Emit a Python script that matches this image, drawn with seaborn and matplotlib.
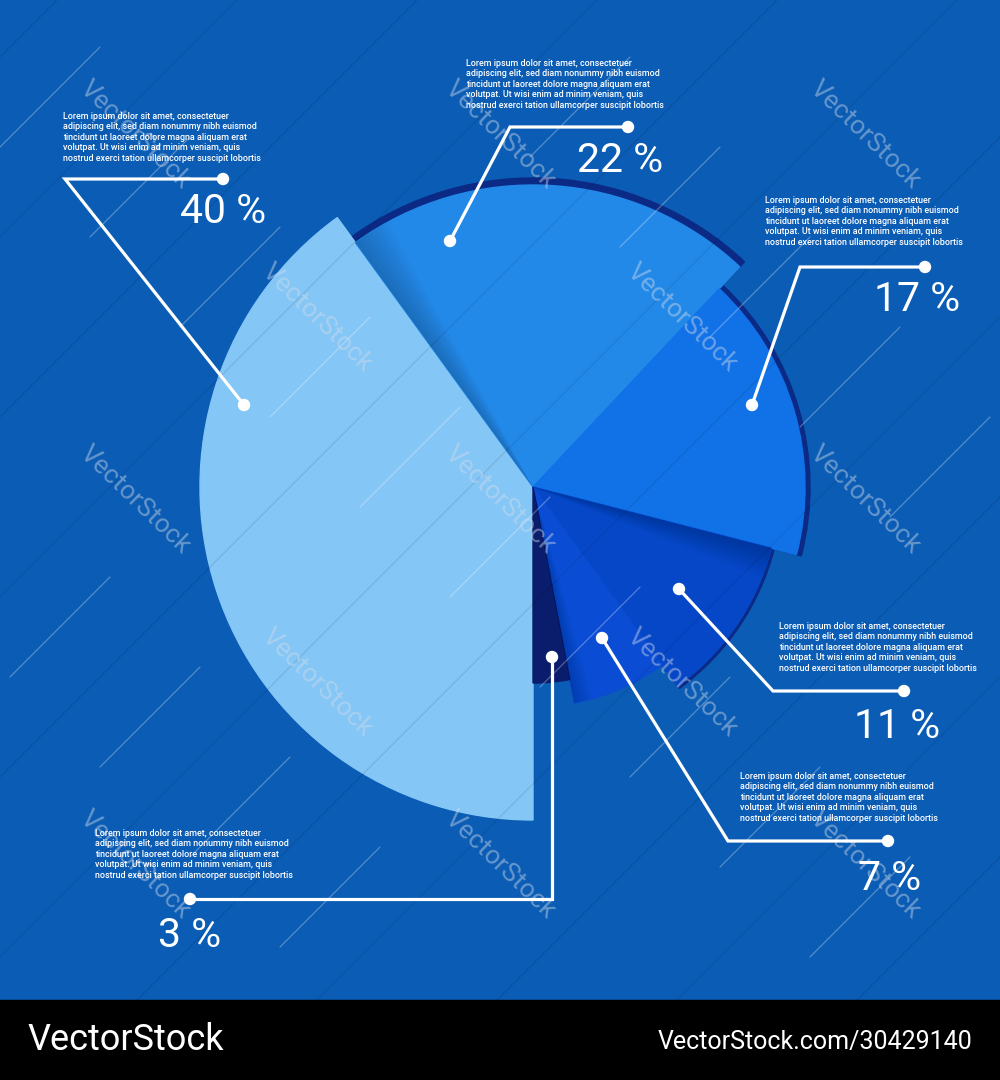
import numpy as np
import matplotlib
matplotlib.use("Agg")
import matplotlib.pyplot as plt
from matplotlib.patches import Wedge, Rectangle
import seaborn as sns

# data
labels = ["40 %", "22 %", "17 %", "11 %", "7 %", "3 %"]
shares = [40, 22, 17, 11, 7, 3]
radii = [333, 302, 272, 246, 220, 196]
slice_colors = ["#84C6F6", "#2389E8", "#1172E8", "#0647C8", "#0A4DD4", "#0A1C6C"]
lorem = ("Lorem ipsum dolor sit amet, consectetuer\n"
         "adipiscing elit, sed diam nonummy nibh euismod\n"
         "tincidunt ut laoreet dolore magna aliquam erat\n"
         "volutpat. Ut wisi enim ad minim veniam, quis\n"
         "nostrud exerci tation ullamcorper suscipit lobortis")

# layout (pixel coords, y down)
center = (533, 487)
callouts = [
    [(244, 405), (65, 179), (223, 179)],
    [(450, 241), (510, 127), (628, 127)],
    [(752, 405), (800, 267), (925, 267)],
    [(679, 589), (773, 691), (904, 691)],
    [(602, 638), (728, 841), (888, 841)],
    [(552, 657), (552, 899), (190, 899)],
]
pct_pos = [(223, 223), (620, 172), (917, 311), (897, 738), (890, 890), (190, 947)]
lorem_pos = [(63, 112), (466, 59), (765, 196), (779, 622), (740, 772), (95, 829)]
rim_extra = [0, 7, 5, 3, 0, 0]

bg = "#0A5CB4"
rim = "#0B2A86"

sns.set_style("white")
plt.rcParams["font.family"] = ["Roboto", "DejaVu Sans"]

fig = plt.figure(figsize=(10, 10.8), dpi=100)
ax = fig.add_axes([0, 0, 1, 1])
ax.set_xlim(0, 1000)
ax.set_ylim(1080, 0)
ax.axis("off")

ax.add_patch(Rectangle((0, 0), 1000, 1000, color=bg, zorder=0))
ax.add_patch(Rectangle((0, 1000), 1000, 80, color="black", zorder=0))

# pie: clockwise from straight down (y axis is inverted so data angles run clockwise)
start = 90.0
bounds = []
for s in shares:
    a1 = start
    a2 = start + s * 3.6
    bounds.append((a1, a2))
    start = a2

# dark rims behind outer slices
for i, extra in enumerate(rim_extra):
    if extra:
        a1, a2 = bounds[i]
        ax.add_patch(Wedge(center, radii[i] + extra, a1, a2, color=rim, zorder=2))

for i, (a1, a2) in enumerate(bounds):
    ax.add_patch(Wedge(center, radii[i], a1, a2, color=slice_colors[i], zorder=3))

# soft shadows along slice edges
for k in range(1, 9):
    a = bounds[1][0]
    ax.add_patch(Wedge(center, radii[1], a, a + k * 0.9, color="black",
                       alpha=0.025, lw=0, zorder=4))
    a = bounds[3][0]
    ax.add_patch(Wedge(center, radii[3], a, a + k * 0.9, color="black",
                       alpha=0.025, lw=0, zorder=4))
    a = bounds[5][0]
    ax.add_patch(Wedge(center, radii[4], a - k * 0.6, a, color="black",
                       alpha=0.02, lw=0, zorder=4))

# watermark strokes over everything: faint dark lines and light dashes at 45 degrees
for k in range(-6, 17):
    c = 57 + 180 * k
    ax.plot([c - 1000, c], [1000, 0], color="black", lw=0.8, alpha=0.1, zorder=5)
    cl = c + 90
    off = (k * 90) % 260
    for j in range(-1, 5):
        x0 = off + j * 260
        x1 = x0 + 100
        y0, y1 = cl - x0, cl - x1
        if x0 < 0 or x1 > 1000 or y0 > 1000 or y1 < 0:
            continue
        ax.plot([x0, x1], [y0, y1], color="white", lw=0.9, alpha=0.3, zorder=5)

# watermarks
for i in range(5):
    y = 135 + 182.5 * i
    for j in range(3 - i % 2):
        x = 135 + 365 * j + (182.5 if i % 2 else 0)
        ax.text(x, y, "VectorStock", rotation=-44, ha="center", va="center",
                fontsize=19, color="#D4DCEA", alpha=0.45, zorder=6)

# callouts
for pts in callouts:
    xs = [p[0] for p in pts]
    ys = [p[1] for p in pts]
    ax.plot(xs, ys, color="white", lw=2.3, zorder=8, solid_joinstyle="miter")
    sns.scatterplot(x=[xs[0], xs[-1]], y=[ys[0], ys[-1]], ax=ax, s=80,
                    color="white", edgecolor="none", zorder=9, legend=False)

for lab, (x, y) in zip(labels, pct_pos):
    ax.text(x, y, lab, ha="center", va="baseline", fontsize=29.5,
            color="white", zorder=9)

for (x, y) in lorem_pos:
    ax.text(x, y, lorem, ha="left", va="top", fontsize=6.4, color="white",
            fontweight="medium", linespacing=1.2, zorder=9)

ax.text(27, 1040, "VectorStock", ha="left", va="center", fontsize=26,
        color="white")
ax.text(972, 1042, "VectorStock.com/30429140", ha="right", va="center",
        fontsize=18, color="white")

fig.savefig("out.png", dpi=100, facecolor="black")
